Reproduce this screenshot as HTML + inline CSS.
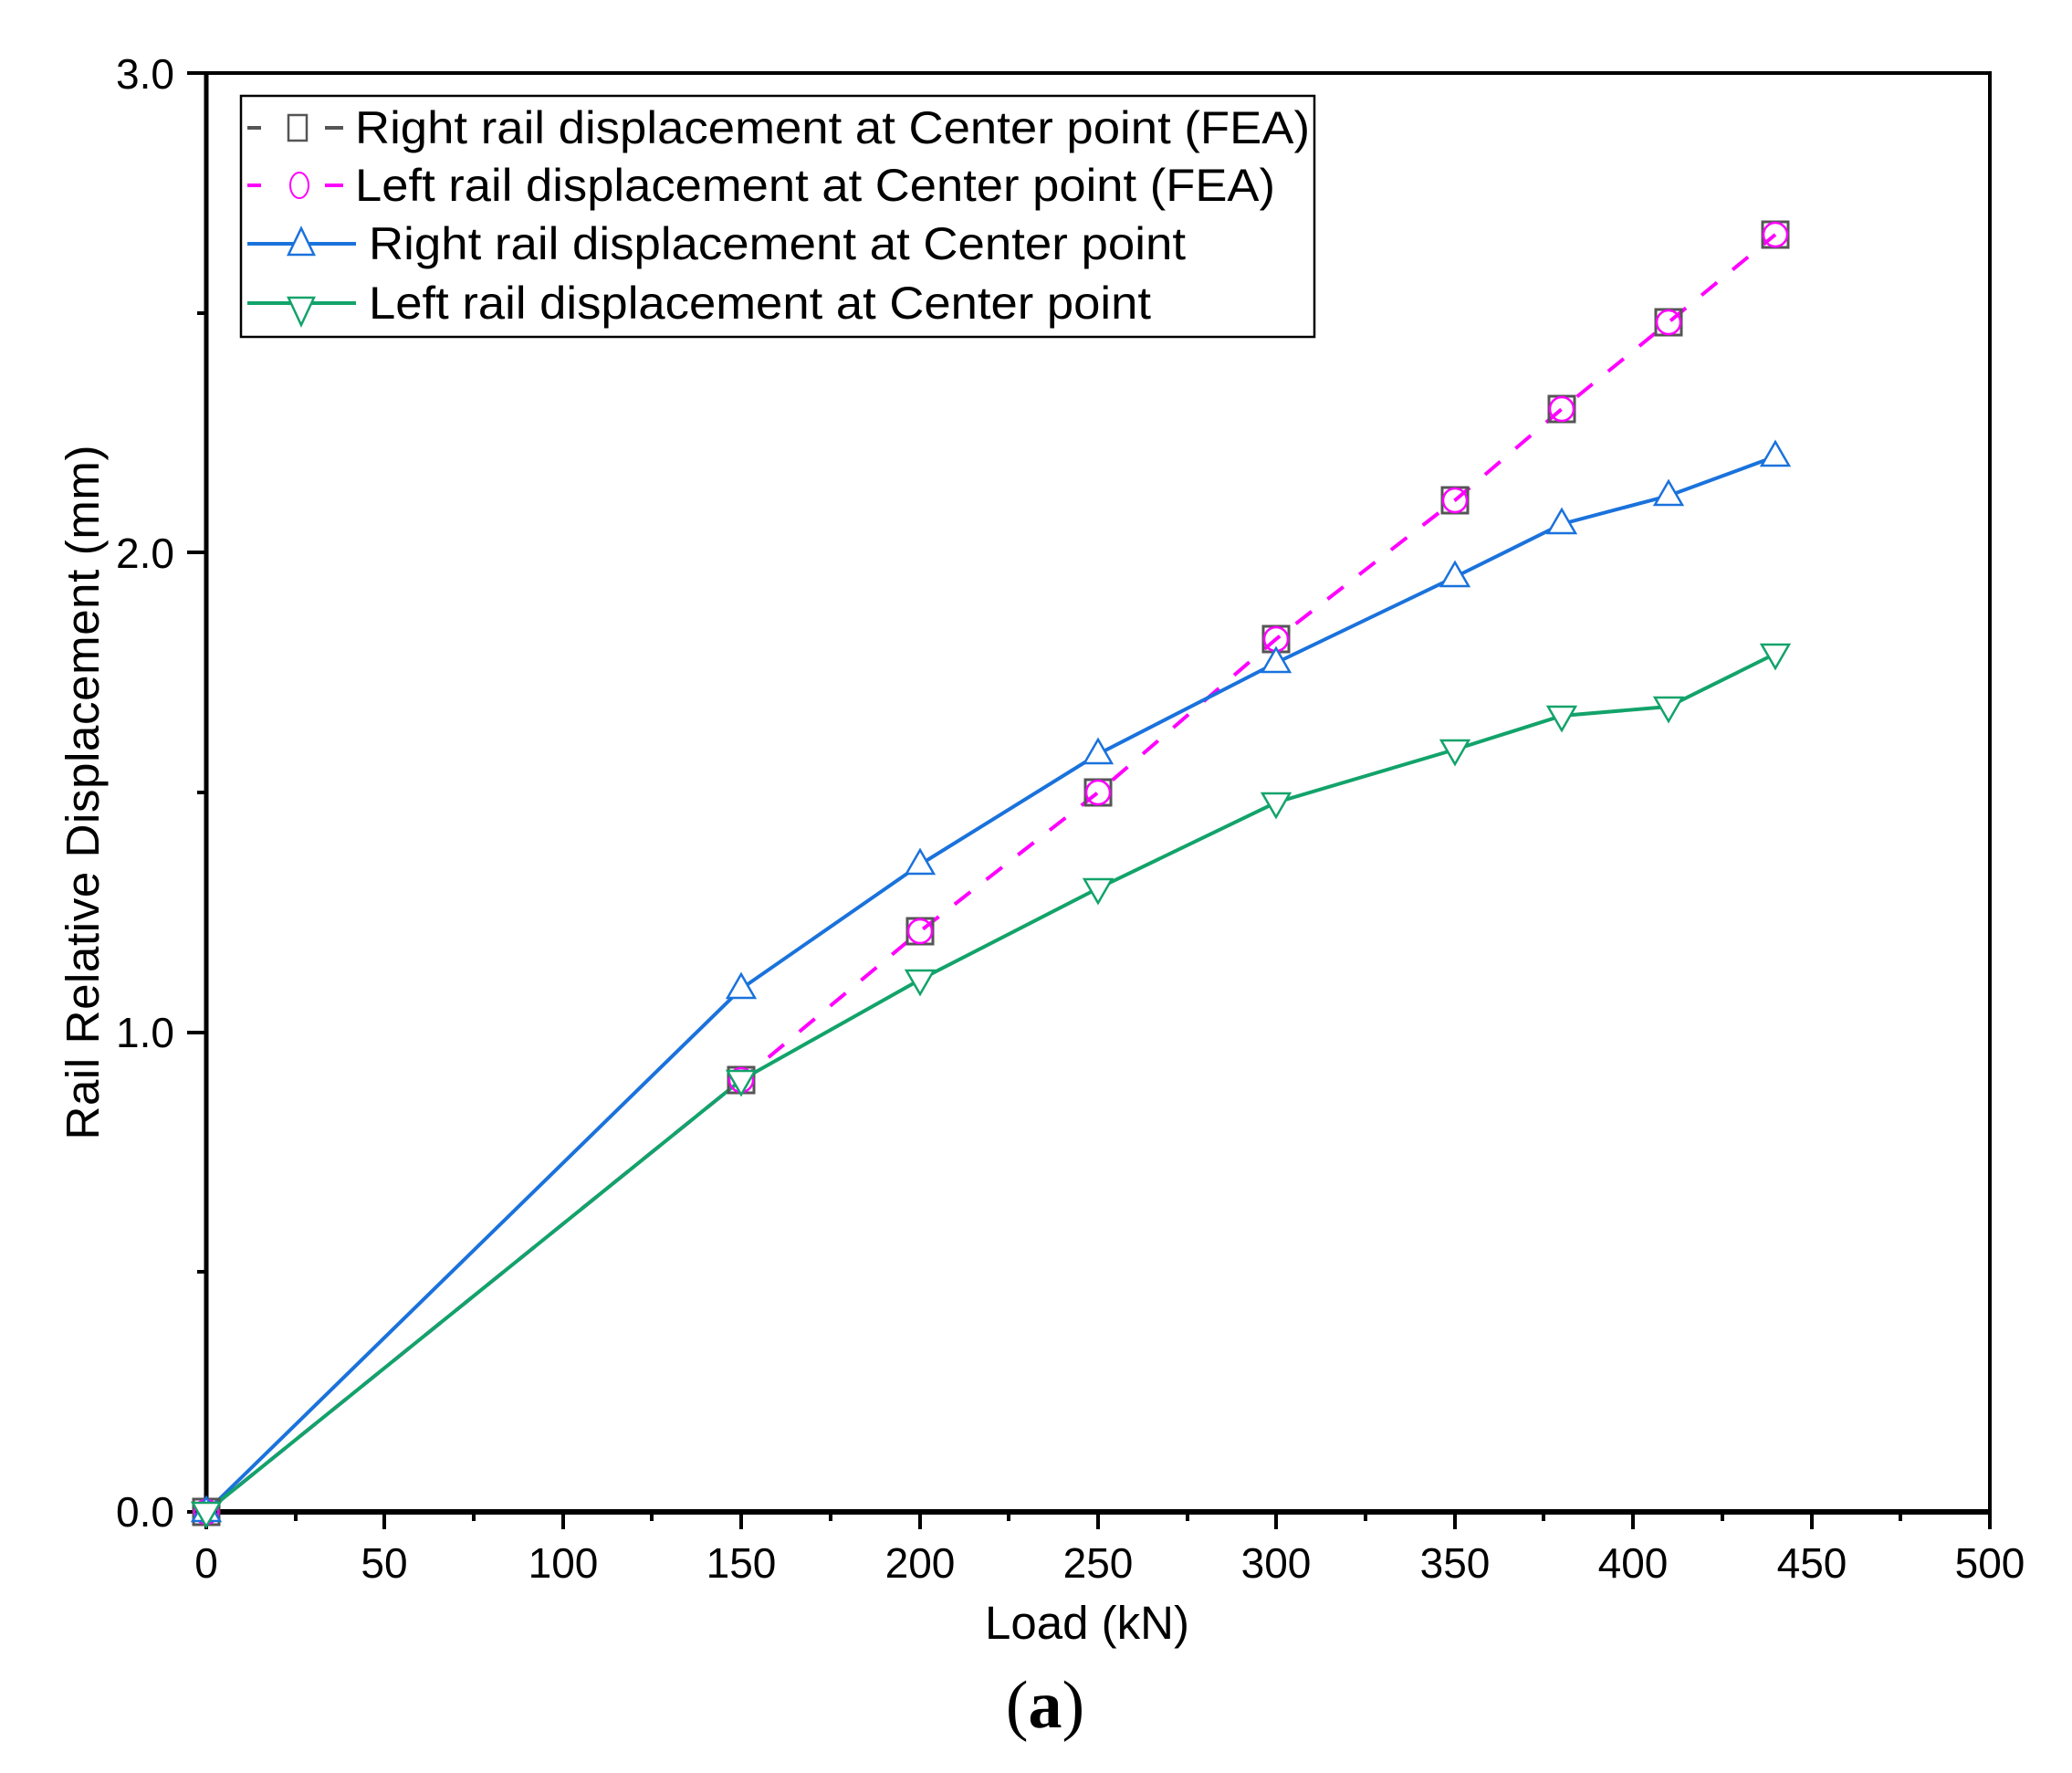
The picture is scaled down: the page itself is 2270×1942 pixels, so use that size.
<!DOCTYPE html>
<html><head><meta charset="utf-8"><style>html,body{margin:0;padding:0;background:#fff}svg{display:block}</style></head>
<body>
<svg width="2270" height="1942" viewBox="0 0 2270 1942" xmlns="http://www.w3.org/2000/svg" font-family="Liberation Sans, sans-serif">
<rect width="2270" height="1942" fill="#fff"/>
<!-- axes frame -->
<rect x="226" y="80" width="1954" height="1576" fill="none" stroke="#000" stroke-width="4"/>
<line x1="224" y1="1656" x2="2182" y2="1656" stroke="#000" stroke-width="6"/>
<line x1="226" y1="78" x2="226" y2="1658" stroke="#000" stroke-width="5"/>
<!-- x ticks -->
<g stroke="#000" stroke-width="4">
<line x1="226" y1="1656" x2="226" y2="1675"/><line x1="324" y1="1656" x2="324" y2="1666"/>
<line x1="421" y1="1656" x2="421" y2="1675"/><line x1="519" y1="1656" x2="519" y2="1666"/>
<line x1="617" y1="1656" x2="617" y2="1675"/><line x1="714" y1="1656" x2="714" y2="1666"/>
<line x1="812" y1="1656" x2="812" y2="1675"/><line x1="910" y1="1656" x2="910" y2="1666"/>
<line x1="1008" y1="1656" x2="1008" y2="1675"/><line x1="1105" y1="1656" x2="1105" y2="1666"/>
<line x1="1203" y1="1656" x2="1203" y2="1675"/><line x1="1301" y1="1656" x2="1301" y2="1666"/>
<line x1="1398" y1="1656" x2="1398" y2="1675"/><line x1="1496" y1="1656" x2="1496" y2="1666"/>
<line x1="1594" y1="1656" x2="1594" y2="1675"/><line x1="1691" y1="1656" x2="1691" y2="1666"/>
<line x1="1789" y1="1656" x2="1789" y2="1675"/><line x1="1887" y1="1656" x2="1887" y2="1666"/>
<line x1="1985" y1="1656" x2="1985" y2="1675"/><line x1="2082" y1="1656" x2="2082" y2="1666"/>
<line x1="2180" y1="1656" x2="2180" y2="1675"/>
<!-- y ticks -->
<line x1="205" y1="1656" x2="226" y2="1656"/><line x1="216" y1="1393" x2="226" y2="1393"/>
<line x1="205" y1="1131" x2="226" y2="1131"/><line x1="216" y1="868" x2="226" y2="868"/>
<line x1="205" y1="605" x2="226" y2="605"/><line x1="216" y1="343" x2="226" y2="343"/>
<line x1="205" y1="80" x2="226" y2="80"/>
</g>
<g font-size="46" fill="#000" text-anchor="middle">
<text x="226" y="1728">0</text><text x="421" y="1728">50</text><text x="617" y="1728">100</text>
<text x="812" y="1728">150</text><text x="1008" y="1728">200</text><text x="1203" y="1728">250</text>
<text x="1398" y="1728">300</text><text x="1594" y="1728">350</text><text x="1789" y="1728">400</text>
<text x="1985" y="1728">450</text><text x="2180" y="1728">500</text>
</g>
<g font-size="46" fill="#000" text-anchor="end">
<text x="191" y="1672">0.0</text><text x="191" y="1147">1.0</text>
<text x="191" y="622">2.0</text><text x="191" y="97">3.0</text>
</g>
<text x="1191" y="1795" font-size="51" text-anchor="middle">Load (kN)</text>
<text transform="translate(108,868) rotate(-90)" font-size="51" text-anchor="middle" textLength="761">Rail Relative Displacement (mm)</text>
<text x="1145" y="1892" font-family="Liberation Serif, serif" font-size="74" text-anchor="middle"><tspan>(</tspan><tspan font-weight="bold">a</tspan><tspan>)</tspan></text>

<!-- series: FEA dashed magenta -->
<polyline fill="none" stroke="#ff00ff" stroke-width="4" stroke-dasharray="22,22"
 points="226,1656 812,1183 1008,1020 1203,868 1398,700 1594,548 1711,448 1828,353 1945,257"/>
<!-- blue -->
<polyline fill="none" stroke="#1a72dc" stroke-width="4"
 points="226,1656 812,1083 1008,947 1203,826 1398,726 1594,632 1711,574 1828,543 1945,500"/>
<!-- green -->
<polyline fill="none" stroke="#12a36a" stroke-width="4"
 points="226,1656 812,1183 1008,1073 1203,973 1398,879 1594,821 1711,784 1828,774 1945,716"/>

<!-- markers -->
<g fill="none" stroke="#555" stroke-width="3">
<rect x="212" y="1642" width="28" height="28"/><rect x="798" y="1169" width="28" height="28"/>
<rect x="994" y="1006" width="28" height="28"/><rect x="1189" y="854" width="28" height="28"/>
<rect x="1384" y="686" width="28" height="28"/><rect x="1580" y="534" width="28" height="28"/>
<rect x="1697" y="434" width="28" height="28"/><rect x="1814" y="339" width="28" height="28"/>
<rect x="1931" y="243" width="28" height="28"/>
</g>
<g fill="none" stroke="#ff00ff" stroke-width="2.5">
<circle cx="226" cy="1656" r="13"/><circle cx="812" cy="1183" r="13"/><circle cx="1008" cy="1020" r="13"/>
<circle cx="1203" cy="868" r="13"/><circle cx="1398" cy="700" r="13"/><circle cx="1594" cy="548" r="13"/>
<circle cx="1711" cy="448" r="13"/><circle cx="1828" cy="353" r="13"/><circle cx="1945" cy="257" r="13"/>
</g>
<g fill="#fff" stroke="#1a72dc" stroke-width="2.5">
<polygon points="226,1640 241,1666 211,1666"/><polygon points="812,1067 827,1093 797,1093"/>
<polygon points="1008,931 1023,957 993,957"/><polygon points="1203,810 1218,836 1188,836"/>
<polygon points="1398,710 1413,736 1383,736"/><polygon points="1594,616 1609,642 1579,642"/>
<polygon points="1711,558 1726,584 1696,584"/><polygon points="1828,527 1843,553 1813,553"/>
<polygon points="1945,484 1960,510 1930,510"/>
</g>
<g fill="#fff" stroke="#12a36a" stroke-width="2.5">
<polygon points="226,1672 241,1646 211,1646"/><polygon points="812,1199 827,1173 797,1173"/>
<polygon points="1008,1089 1023,1063 993,1063"/><polygon points="1203,989 1218,963 1188,963"/>
<polygon points="1398,895 1413,869 1383,869"/><polygon points="1594,837 1609,811 1579,811"/>
<polygon points="1711,800 1726,774 1696,774"/><polygon points="1828,790 1843,764 1813,764"/>
<polygon points="1945,732 1960,706 1930,706"/>
</g>

<!-- legend -->
<rect x="264" y="105" width="1176" height="264" fill="#fff" stroke="#000" stroke-width="2.5"/>
<g stroke-width="4">
<line x1="271" y1="140" x2="286" y2="140" stroke="#555"/><line x1="356" y1="140" x2="376" y2="140" stroke="#555"/>
<rect x="316" y="126" width="20" height="28" fill="none" stroke="#555" stroke-width="2.5"/>
<line x1="271" y1="203" x2="286" y2="203" stroke="#ff00ff"/><line x1="356" y1="203" x2="376" y2="203" stroke="#ff00ff"/>
<ellipse cx="328" cy="203" rx="10" ry="14" fill="none" stroke="#ff00ff" stroke-width="2"/>
<line x1="271" y1="267" x2="390" y2="267" stroke="#1a72dc"/>
<polygon points="330,250 344,279 316,279" fill="#fff" stroke="#1a72dc" stroke-width="2.5"/>
<line x1="271" y1="332" x2="390" y2="332" stroke="#12a36a"/>
<polygon points="330,356 344,326 316,326" fill="#fff" stroke="#12a36a" stroke-width="2.5"/>
</g>
<g font-size="50" fill="#000">
<text x="389" y="157" textLength="1046" lengthAdjust="spacingAndGlyphs">Right rail displacement at Center point (FEA)</text>
<text x="389" y="220" textLength="1008" lengthAdjust="spacingAndGlyphs">Left rail displacement at Center point (FEA)</text>
<text x="404" y="284" textLength="895" lengthAdjust="spacingAndGlyphs">Right rail displacement at Center point</text>
<text x="404" y="349" textLength="857" lengthAdjust="spacingAndGlyphs">Left rail displacement at Center point</text>
</g>
</svg>
</body></html>
